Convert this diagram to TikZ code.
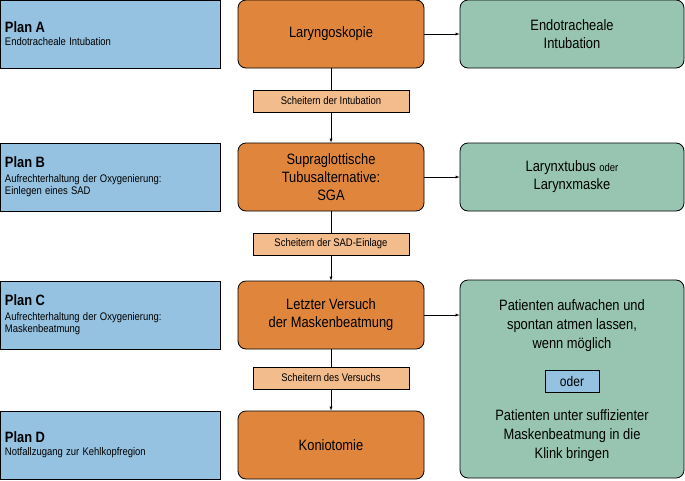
\documentclass[tikz,border=0pt]{standalone}
\usepackage{fontspec}
\setmainfont{Liberation Sans}[FakeStretch=0.86]
\definecolor{couleurplan}{HTML}{96C2E1}
\definecolor{couleuretap}{HTML}{E0863C}
\definecolor{couleurresu}{HTML}{97C5B1}
\definecolor{couleurechc}{HTML}{F2BC8D}
\newcommand{\lienhorz}[2]{\draw[-latex] (#1.east) -- (#2.west);}
\newcommand{\lienechc}[3]{\draw (#1.south) -- (#2.north); \draw[-latex] (#2.south) -- (#3.north);}
\tikzset{
		basic/.style={draw, thick, align=center, inner sep=0pt},
		plan/.style={basic, fill=couleurplan, minimum width=220pt, minimum height=68pt, align=left, text width=210pt},
		etape/.style={basic, fill=couleuretap, rounded corners=8pt, minimum width=186pt, minimum height=68pt, font=\fontsize{15}{18}\selectfont},
		resultat/.style={basic, fill=couleurresu, rounded corners=8pt, minimum width=224pt, minimum height=68pt, font=\fontsize{15}{18}\selectfont},
		echec/.style={basic, thin, fill=couleurechc, minimum width=156pt, minimum height=22pt, font=\fontsize{11}{13}\selectfont}
	}
\newcommand{\titreplan}[2]{{\fontsize{15}{18}\selectfont\bfseries #1}\\[1pt]{\fontsize{11}{14}\selectfont #2}}

\begin{document}
\begin{tikzpicture}[x=1pt, y=-1pt]
		\useasboundingbox (0,0) rectangle (685,480);
		% plans
		\node[plan](plana) at (110,34){\titreplan{Plan A}{Endotracheale Intubation}};
		\node[plan](planb) at (110,177){\titreplan{Plan B}{Aufrechterhaltung der Oxygenierung:\\Einlegen eines SAD}};
		\node[plan](planc) at (110,315){\titreplan{Plan C}{Aufrechterhaltung der Oxygenierung:\\Maskenbeatmung}};
		\node[plan](pland) at (110,445){\titreplan{Plan D}{Notfallzugang zur Kehlkopfregion}};
		% etapes
		\node[etape](laryngo) at (331,34){Laryngoskopie};
		\node[etape](supragl) at (331,177){Supraglottische\\Tubusalternative:\\SGA};
		\node[etape](maskenb) at (331,315){Letzter Versuch\\der Maskenbeatmung};
		\node[etape](koniot) at (331,445){Koniotomie};
		% echecs
		\node[echec](echcintu) at (331,101){Scheitern der Intubation};
		\node[echec](echcsad) at (331,244){Scheitern der SAD-Einlage};
		\node[echec](echcvers) at (331,378){Scheitern des Versuchs};
		% resultats
		\node[resultat](endotrac) at (572,34){Endotracheale\\Intubation};
		\node[resultat](larynx) at (572,177){Larynxtubus {\fontsize{11}{13}\selectfont oder}\\Larynxmaske};
		\node[resultat, minimum height=198pt](patient) at (572,379){};
		\node(aufwach) at (572,326){\fontsize{15}{19}\selectfont\begin{tabular}{c}Patienten aufwachen und\\spontan atmen lassen,\\wenn möglich\end{tabular}};
		\node[basic, thin, fill=couleurplan, minimum width=54pt, minimum height=22pt, font=\fontsize{14}{16}\selectfont](oder) at (572,381){oder};
		\node(klinik) at (572,436){\fontsize{15}{19}\selectfont\begin{tabular}{c}Patienten unter suffizienter\\Maskenbeatmung in die\\Klink bringen\end{tabular}};

		% Liens
		\lienhorz{laryngo}{endotrac}
		\lienhorz{supragl}{larynx}
		\draw[-latex] (maskenb.east) -- (maskenb.east -| patient.west);
		\lienechc{laryngo}{echcintu}{supragl}
		\lienechc{supragl}{echcsad}{maskenb}
		\lienechc{maskenb}{echcvers}{koniot}
	\end{tikzpicture}
\end{document}
